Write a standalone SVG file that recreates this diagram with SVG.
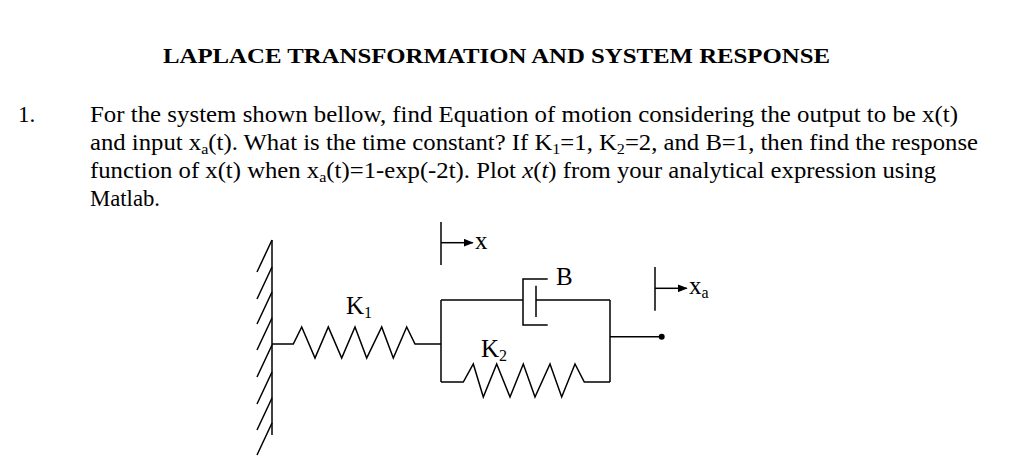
<svg xmlns="http://www.w3.org/2000/svg" width="1024" height="476" viewBox="0 0 1024 476">
<style>
text{font-family:"Liberation Serif","Times New Roman",serif;fill:#000}
.t{font-size:23px}
.l{font-size:25px}
.s{font-size:16px}
.ln{stroke:#000;stroke-width:1.5;fill:none}
</style>
<defs><marker id="ah" markerWidth="10" markerHeight="8" refX="9" refY="4" orient="auto" markerUnits="userSpaceOnUse"><path d="M0,0L10,4L0,8z" fill="#000"/></marker></defs>
<rect width="1024" height="476" fill="#fff"/>
<text x="163" y="63" font-weight="bold" font-size="22" textLength="667" lengthAdjust="spacingAndGlyphs">LAPLACE TRANSFORMATION AND SYSTEM RESPONSE</text>
<text class="t" x="18" y="122">1.</text>
<text class="t" x="90" y="122" textLength="868" lengthAdjust="spacingAndGlyphs">For the system shown bellow, find Equation of motion considering the output to be x(t)</text>
<text class="t" x="90" y="150" textLength="888" lengthAdjust="spacingAndGlyphs">and input x<tspan font-size="15" dy="4">a</tspan><tspan dy="-4">(t). What is the time constant? If K</tspan><tspan font-size="15" dy="4">1</tspan><tspan dy="-4">=1, K</tspan><tspan font-size="15" dy="4">2</tspan><tspan dy="-4">=2, and B=1, then find the response</tspan></text>
<text class="t" x="90" y="178" textLength="846" lengthAdjust="spacingAndGlyphs">function of x(t) when x<tspan font-size="15" dy="4">a</tspan><tspan dy="-4">(t)=1-exp(-2t). Plot </tspan><tspan font-style="italic">x</tspan>(<tspan font-style="italic">t</tspan>) from your analytical expression using</text>
<text class="t" x="90" y="206" textLength="70" lengthAdjust="spacingAndGlyphs">Matlab.</text>
<g id="wall" class="ln">
<path d="M272,240V435"/>
<path d="M257,272L272,240M257,299L272,267M257,324L272,292M257,350L272,318M257,377L272,345M257,404L272,372M257,430L272,398M257,455L272,423"/>
</g>
<g id="connectors" class="ln">
<path id="k1" d="M272,344H293.3L301.7,327L315,358L328.3,327L341.7,358L355,327L366.7,358L381.7,327L393.3,358L406.7,327L415,344H441"/>
<path d="M441,300V382"/>
<path d="M441,300H523"/>
<path id="damper" d="M547.7,279H523V325H547.7M536,285.7V317M536,300H610"/>
<path id="k2" d="M441,382H463.3L473.3,364L483.3,397L496.7,364L510,397L523.3,364L535,397L550,364L561.7,397L575,364L584.3,382H610"/>
<path d="M610,300V382M610,336.7H661.7"/>
<path d="M441,222V265"/>
<path d="M441,242.7H472.7" marker-end="url(#ah)"/>
<path d="M655,267V310.7"/>
<path d="M655,288.3H686.7" marker-end="url(#ah)"/>
</g>
<circle cx="661.7" cy="336.7" r="3" fill="#000"/>
<text class="l" x="475" y="249">x</text>
<text class="l" x="689" y="294">x<tspan class="s" dy="4">a</tspan></text>
<text class="l" x="556" y="285">B</text>
<text class="l" x="346" y="314">K<tspan class="s" dy="4">1</tspan></text>
<text class="l" x="481" y="357">K<tspan class="s" dy="4">2</tspan></text>
</svg>
